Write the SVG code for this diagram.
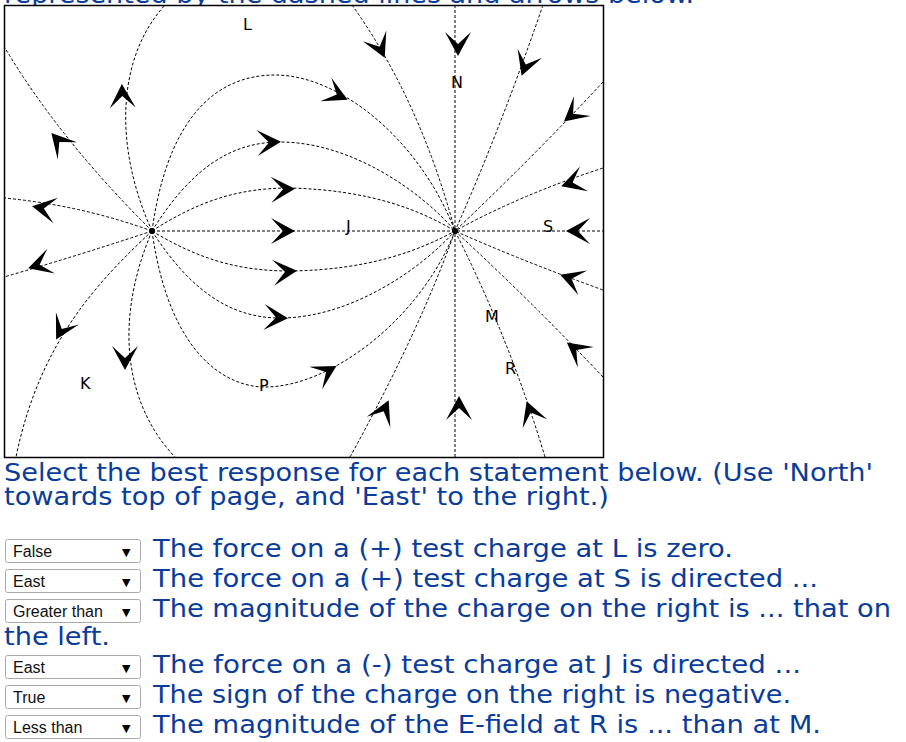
<svg xmlns="http://www.w3.org/2000/svg" xmlns:xlink="http://www.w3.org/1999/xlink" width="906" height="742" viewBox="0 0 906 742">
<style>
.fl{fill:none;stroke:#000;stroke-width:1;stroke-dasharray:3,2}
.lb{font-family:"DejaVu Sans",sans-serif;font-size:16px;fill:#000}
.q{font-family:"DejaVu Sans",Verdana,sans-serif;font-size:25px;fill:#0a3c9c}
.dd{fill:#fff;stroke:#aaa;stroke-width:1}
.dt{font-family:"Liberation Sans",Arial,sans-serif;font-size:16px;fill:#111}
.da{font-family:"DejaVu Sans",sans-serif;font-size:11px;fill:#000}
</style>
<defs>
<path id="ah" d="M4,0 L-20,-13 L-8,0 L-20,13 Z" fill="#000"/>
</defs>
<rect width="906" height="742" fill="#fff"/>
<text class="q" x="4" y="3" textLength="690" lengthAdjust="spacingAndGlyphs">represented by the dashed lines and arrows below.</text>
<rect x="4.5" y="5.5" width="599" height="452" fill="#fff" stroke="#000" stroke-width="1.5"/>
<g id="connectors">
<path class="fl" d="M152,231 L603,231"/>
<path class="fl" d="M152,231 Q80,205 4,198"/>
<path class="fl" d="M152,231 Q80,255 4,277"/>
<path class="fl" d="M152,231 Q60,140 5,48"/>
<path class="fl" d="M152,231 C115,150 115,60 165,5"/>
<path class="fl" d="M152,231 C100,280 40,340 16,457"/>
<path class="fl" d="M152,231 C110,330 130,410 175,457"/>
<path class="fl" d="M152,231 C170,100 230,75 275,75 C340,75 420,140 455,231"/>
<path class="fl" d="M152,231 C170,360 230,387 265,387 C330,387 420,320 455,231"/>
<path class="fl" d="M152,231 C190,170 230,142 280,142 C350,142 420,190 455,231"/>
<path class="fl" d="M152,231 C200,200 240,188 290,188 C370,190 420,210 455,231"/>
<path class="fl" d="M152,231 C200,260 240,271 290,271 C370,270 420,250 455,231"/>
<path class="fl" d="M152,231 C190,290 230,318 280,318 C350,318 420,270 455,231"/>
<path class="fl" d="M352,5 Q420,100 455,231"/>
<path class="fl" d="M455,5 L455,231"/>
<path class="fl" d="M543,5 Q500,130 455,231"/>
<path class="fl" d="M603,82 Q540,150 455,231"/>
<path class="fl" d="M603,168 Q520,195 455,231"/>
<path class="fl" d="M603,290 Q520,260 455,231"/>
<path class="fl" d="M603,377 Q530,300 455,231"/>
<path class="fl" d="M545,457 Q510,340 455,231"/>
<path class="fl" d="M455,457 L455,231"/>
<path class="fl" d="M350,457 Q420,330 455,231"/>
<use xlink:href="#ah" transform="translate(36,207) rotate(190)"/>
<use xlink:href="#ah" transform="translate(32,267) rotate(163)"/>
<use xlink:href="#ah" transform="translate(54,136) rotate(228)"/>
<use xlink:href="#ah" transform="translate(122,88) rotate(268)"/>
<use xlink:href="#ah" transform="translate(58,336) rotate(118)"/>
<use xlink:href="#ah" transform="translate(125,366) rotate(90)"/>
<use xlink:href="#ah" transform="translate(277,142) rotate(-3)"/>
<use xlink:href="#ah" transform="translate(291,189) rotate(-2)"/>
<use xlink:href="#ah" transform="translate(291,231) rotate(0)"/>
<use xlink:href="#ah" transform="translate(293,271) rotate(-5)"/>
<use xlink:href="#ah" transform="translate(284,318) rotate(3)"/>
<use xlink:href="#ah" transform="translate(344,98) rotate(25)"/>
<use xlink:href="#ah" transform="translate(333,368) rotate(-30)"/>
<use xlink:href="#ah" transform="translate(383,54) rotate(65)"/>
<use xlink:href="#ah" transform="translate(458,52) rotate(90)"/>
<use xlink:href="#ah" transform="translate(523,72) rotate(110)"/>
<use xlink:href="#ah" transform="translate(567,119) rotate(140)"/>
<use xlink:href="#ah" transform="translate(565,185) rotate(162)"/>
<use xlink:href="#ah" transform="translate(570,231) rotate(180)"/>
<use xlink:href="#ah" transform="translate(564,276) rotate(200)"/>
<use xlink:href="#ah" transform="translate(570,345) rotate(218)"/>
<use xlink:href="#ah" transform="translate(528,405) rotate(250)"/>
<use xlink:href="#ah" transform="translate(459,400) rotate(270)"/>
<use xlink:href="#ah" transform="translate(387,404) rotate(295)"/>
</g>
<g id="charges">
<circle cx="152" cy="231" r="3" fill="#000"/>
<circle cx="455" cy="231" r="3" fill="#000"/>
</g>
<g id="labels">
<text class="lb" x="243" y="30">L</text>
<text class="lb" x="451" y="88">N</text>
<text class="lb" x="346" y="232">J</text>
<text class="lb" x="543" y="232">S</text>
<text class="lb" x="485" y="322">M</text>
<text class="lb" x="505" y="374">R</text>
<text class="lb" x="259" y="391">P</text>
<text class="lb" x="80" y="389">K</text>
</g>
<g id="questions">
<text class="q" x="4" y="481" textLength="869" lengthAdjust="spacingAndGlyphs">Select the best response for each statement below. (Use 'North'</text>
<text class="q" x="4" y="505" textLength="605" lengthAdjust="spacingAndGlyphs">towards top of page, and 'East' to the right.)</text>
<text class="q" x="153" y="557" textLength="580" lengthAdjust="spacingAndGlyphs">The force on a (+) test charge at L is zero.</text>
<text class="q" x="153" y="587" textLength="665" lengthAdjust="spacingAndGlyphs">The force on a (+) test charge at S is directed ...</text>
<text class="q" x="153" y="617" textLength="738" lengthAdjust="spacingAndGlyphs">The magnitude of the charge on the right is ... that on</text>
<text class="q" x="4" y="645" textLength="106" lengthAdjust="spacingAndGlyphs">the left.</text>
<text class="q" x="153" y="673" textLength="648" lengthAdjust="spacingAndGlyphs">The force on a (-) test charge at J is directed ...</text>
<text class="q" x="153" y="703" textLength="638" lengthAdjust="spacingAndGlyphs">The sign of the charge on the right is negative.</text>
<text class="q" x="153" y="733" textLength="668" lengthAdjust="spacingAndGlyphs">The magnitude of the E-field at R is ... than at M.</text>
</g>
<g id="dropdowns">
<rect class="dd" x="5.5" y="539.5" width="135" height="23" rx="2"/><text class="dt" x="13" y="557">False</text><text class="da" x="122" y="556">▼</text>
<rect class="dd" x="5.5" y="569.5" width="135" height="23" rx="2"/><text class="dt" x="13" y="587">East</text><text class="da" x="122" y="586">▼</text>
<rect class="dd" x="5.5" y="599.5" width="135" height="23" rx="2"/><text class="dt" x="13" y="617">Greater than</text><text class="da" x="122" y="616">▼</text>
<rect class="dd" x="5.5" y="655.5" width="135" height="23" rx="2"/><text class="dt" x="13" y="673">East</text><text class="da" x="122" y="672">▼</text>
<rect class="dd" x="5.5" y="685.5" width="135" height="23" rx="2"/><text class="dt" x="13" y="703">True</text><text class="da" x="122" y="702">▼</text>
<rect class="dd" x="5.5" y="715.5" width="135" height="23" rx="2"/><text class="dt" x="13" y="733">Less than</text><text class="da" x="122" y="732">▼</text>
</g>
</svg>
